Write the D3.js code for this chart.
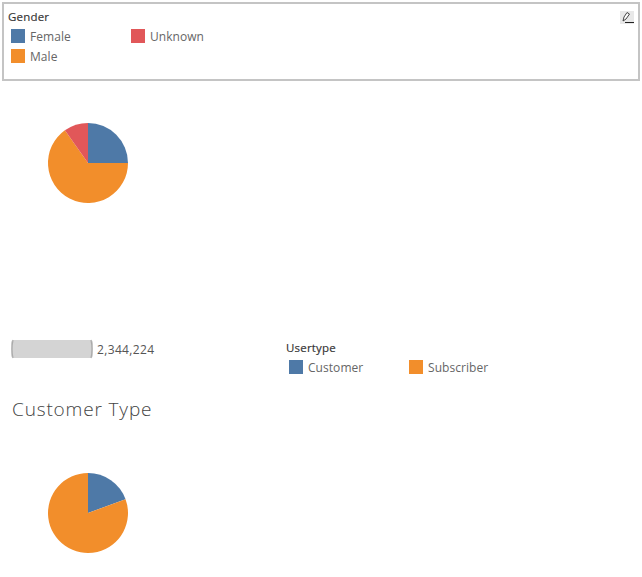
<!DOCTYPE html>
<html>
<head>
<meta charset="utf-8">
<script src="https://cdn.jsdelivr.net/npm/d3@7"></script>
<style>
  html, body { margin: 0; padding: 0; background: #fff; }
  svg { display: block; }
  text { font-family: "Open Sans", sans-serif; }
</style>
</head>
<body>
<svg id="chart" width="642" height="577"></svg>
<script>
const genderNames = ["Female", "Male", "Unknown"];
const genderShares = [25, 65.2, 9.8];
const genderLegendColumns = [0, 0, 1];
const genderLegendRows = [0, 1, 0];

const usertypeNames = ["Customer", "Subscriber"];
const usertypeShares = [19.4, 80.6];

const totalRecords = [2344224];

const blue = "#4e79a7";
const orange = "#f28e2b";
const red = "#e15759";

const svg = d3.select("#chart");

// legend frame on top
svg.append("rect")
  .attr("x", 3).attr("y", 3)
  .attr("width", 636).attr("height", 77)
  .attr("fill", "#fff")
  .attr("stroke", "#c4c4c4")
  .attr("stroke-width", 2);

const drawTitle = (label, x, y) => {
  svg.append("text")
    .attr("x", x).attr("y", y)
    .attr("font-size", 11.5)
    .attr("letter-spacing", 0.2)
    .attr("stroke", "#333")
    .attr("stroke-width", 0.15)
    .attr("fill", "#333")
    .text(label);
};

const drawKey = (label, color, x, y) => {
  svg.append("rect")
    .attr("x", x).attr("y", y)
    .attr("width", 14).attr("height", 14)
    .attr("fill", color);
  svg.append("text")
    .attr("x", x + 19).attr("y", y + 12)
    .attr("font-size", 12)
    .attr("letter-spacing", 0.05)
    .attr("fill", "#666")
    .text(label);
};

const genderColor = d3.scaleOrdinal().domain(genderNames).range([blue, orange, red]);
const usertypeColor = d3.scaleOrdinal().domain(usertypeNames).range([blue, orange]);

const legendX = d3.scaleLinear().domain([0, 1]).range([11, 131]);
const legendY = d3.scaleLinear().domain([0, 1]).range([29, 49]);

drawTitle("Gender", 8, 21);
genderNames.forEach((name, i) => {
  drawKey(name, genderColor(name), legendX(genderLegendColumns[i]), legendY(genderLegendRows[i]));
});

// little pen icon, top right
const pen = svg.append("g").attr("transform", "translate(620,11)");
pen.append("rect").attr("width", 14).attr("height", 13).attr("fill", "#e8e8e8");
pen.append("path")
  .attr("d", "M3 10 L4 6 L7 1.5 L9.5 3 L6 8 Z")
  .attr("fill", "#fff")
  .attr("stroke", "#444")
  .attr("stroke-width", 1);
pen.append("line")
  .attr("x1", 5).attr("y1", 11.5).attr("x2", 14).attr("y2", 11.5)
  .attr("stroke", "#222").attr("stroke-width", 1);

const pieLayout = d3.pie().sort(null).value((d) => d);
const arc = d3.arc().innerRadius(0).outerRadius(40);

const drawPie = (names, shares, color, cx, cy) => {
  const group = svg.append("g").attr("transform", `translate(${cx},${cy})`);
  group.selectAll("path")
    .data(pieLayout(shares))
    .join("path")
    .attr("d", arc)
    .attr("fill", (d, i) => color(names[i]));
};

drawPie(genderNames, genderShares, genderColor, 88, 163);

// total bar
const barScale = d3.scaleLinear().domain([0, totalRecords[0]]).range([11, 93]);
svg.selectAll(".total-bar")
  .data(totalRecords)
  .join("rect")
  .attr("class", "total-bar")
  .attr("x", barScale(0))
  .attr("y", 340)
  .attr("width", (d) => barScale(d) - barScale(0))
  .attr("height", 18)
  .attr("rx", 3)
  .attr("fill", "#d4d4d4");
[0, totalRecords[0]].forEach((v) => {
  const x = barScale(v);
  const dir = v === 0 ? 1 : -1;
  svg.append("path")
    .attr("d", `M${x + dir * 2} 340 Q${x} 349 ${x + dir * 2} 358`)
    .attr("fill", "none")
    .attr("stroke", "#aaa")
    .attr("stroke-width", 1.2);
});
svg.append("text")
  .attr("x", 97).attr("y", 354)
  .attr("font-size", 12)
  .attr("letter-spacing", 0.35)
  .attr("fill", "#555")
  .text(d3.format(",")(totalRecords[0]));

// usertype legend
drawTitle("Usertype", 286, 352);
usertypeNames.forEach((name, i) => {
  drawKey(name, usertypeColor(name), 289 + i * 120, 360);
});

svg.append("text")
  .attr("x", 12).attr("y", 416)
  .attr("font-size", 19)
  .attr("font-weight", 300)
  .attr("letter-spacing", 0.85)
  .attr("fill", "#444")
  .text("Customer Type");

drawPie(usertypeNames, usertypeShares, usertypeColor, 88, 513);
</script>
</body>
</html>
